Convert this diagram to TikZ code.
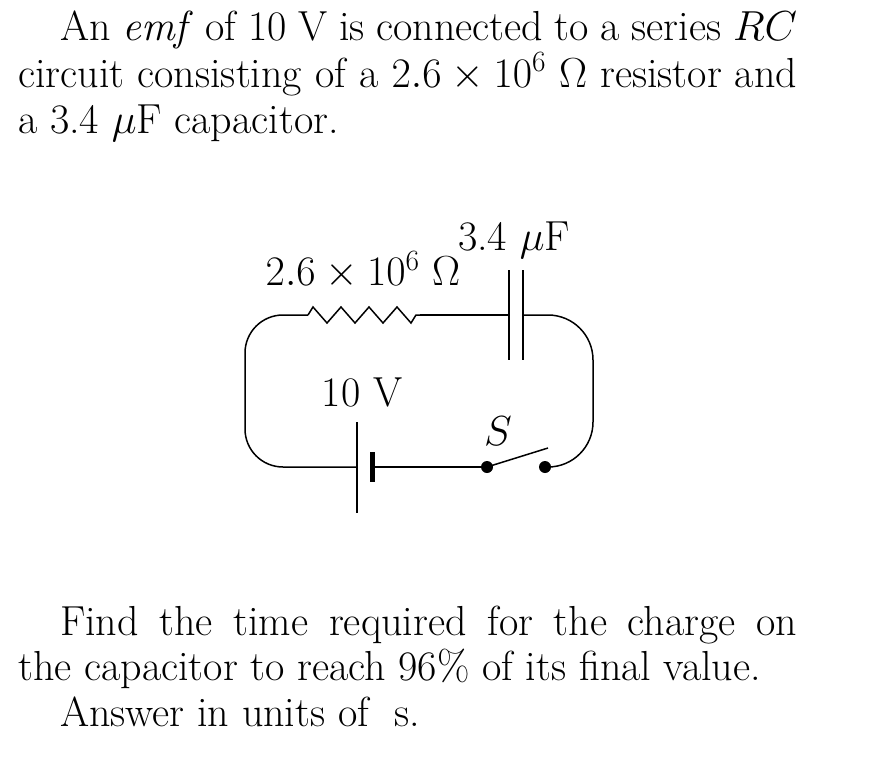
\RequirePackage{fix-cm}
\documentclass[tikz,border=0pt]{standalone}
\begin{document}
\begin{tikzpicture}[x=1pt,y=-1pt,
  txt/.style={anchor=base west,inner sep=0pt,font=\fontsize{42}{46}\selectfont},
  lbl/.style={inner sep=0pt,font=\fontsize{42}{46}\selectfont},
  wire/.style={line width=1.5pt},
  dot/.style={circle,fill=black,inner sep=0pt,minimum size=12pt}]
\useasboundingbox (0,0) rectangle (872,768);
% top text
\node[txt] (l1) at (60,41) {\makebox[737pt][s]{An \emph{emf} of 10 V is connected to a series $RC$}};
\node[txt] (l2) at (18,87) {\makebox[779pt][s]{circuit consisting of a $2.6\times10^6$ $\Omega$ resistor and}};
\node[txt] (l3) at (18,133) {a 3.4 $\mu$F capacitor.};
% bottom text
\node[txt] (b1) at (60,635) {\makebox[737pt][s]{Find the time required for the charge on}};
\node[txt] (b2) at (18,680) {the capacitor to reach 96\% of its final value.};
\node[txt] (b3) at (60,726) {Answer in units of \ s.};
% circuit
\coordinate (r1) at (308,315);
\coordinate (r2) at (420,315);
\coordinate (c1) at (509,315);
\coordinate (c2) at (523,315);
\coordinate (bl) at (357,467);
\coordinate (bs) at (372,467);
\node[dot] (s1) at (487,467) {};
\node[dot] (s2) at (545,467) {};
\draw[wire,rounded corners=38pt] (r1) -- (245,315) -- (245,467) -- (bl);
\draw[wire] (r1) -- (313,307) -- (327,323) -- (341,307) -- (355,323) -- (369,307) -- (383,323) -- (397,307) -- (411,323) -- (416,315) -- (r2);
\draw[wire] (r2) -- (c1);
\draw[wire] (509,270) -- (509,360);
\draw[wire] (523,270) -- (523,360);
\draw[wire,rounded corners=45pt] (c2) -- (593,315) -- (593,467) -- (s2.center);
\draw[wire] (357,422) -- (357,513);
\draw[line width=5pt] (372,452) -- (372,482);
\draw[wire] (bs) -- (s1.center);
\draw[wire] (s1.center) -- (548,448);
\node[lbl] (rl) at (363,270) {$2.6\times10^6$ $\Omega$};
\node[lbl] (cl) at (514,240) {3.4 $\mu$F};
\node[lbl] (vl) at (362,392) {10 V};
\node[lbl] (sl) at (498,431) {$S$};
\end{tikzpicture}
\end{document}
